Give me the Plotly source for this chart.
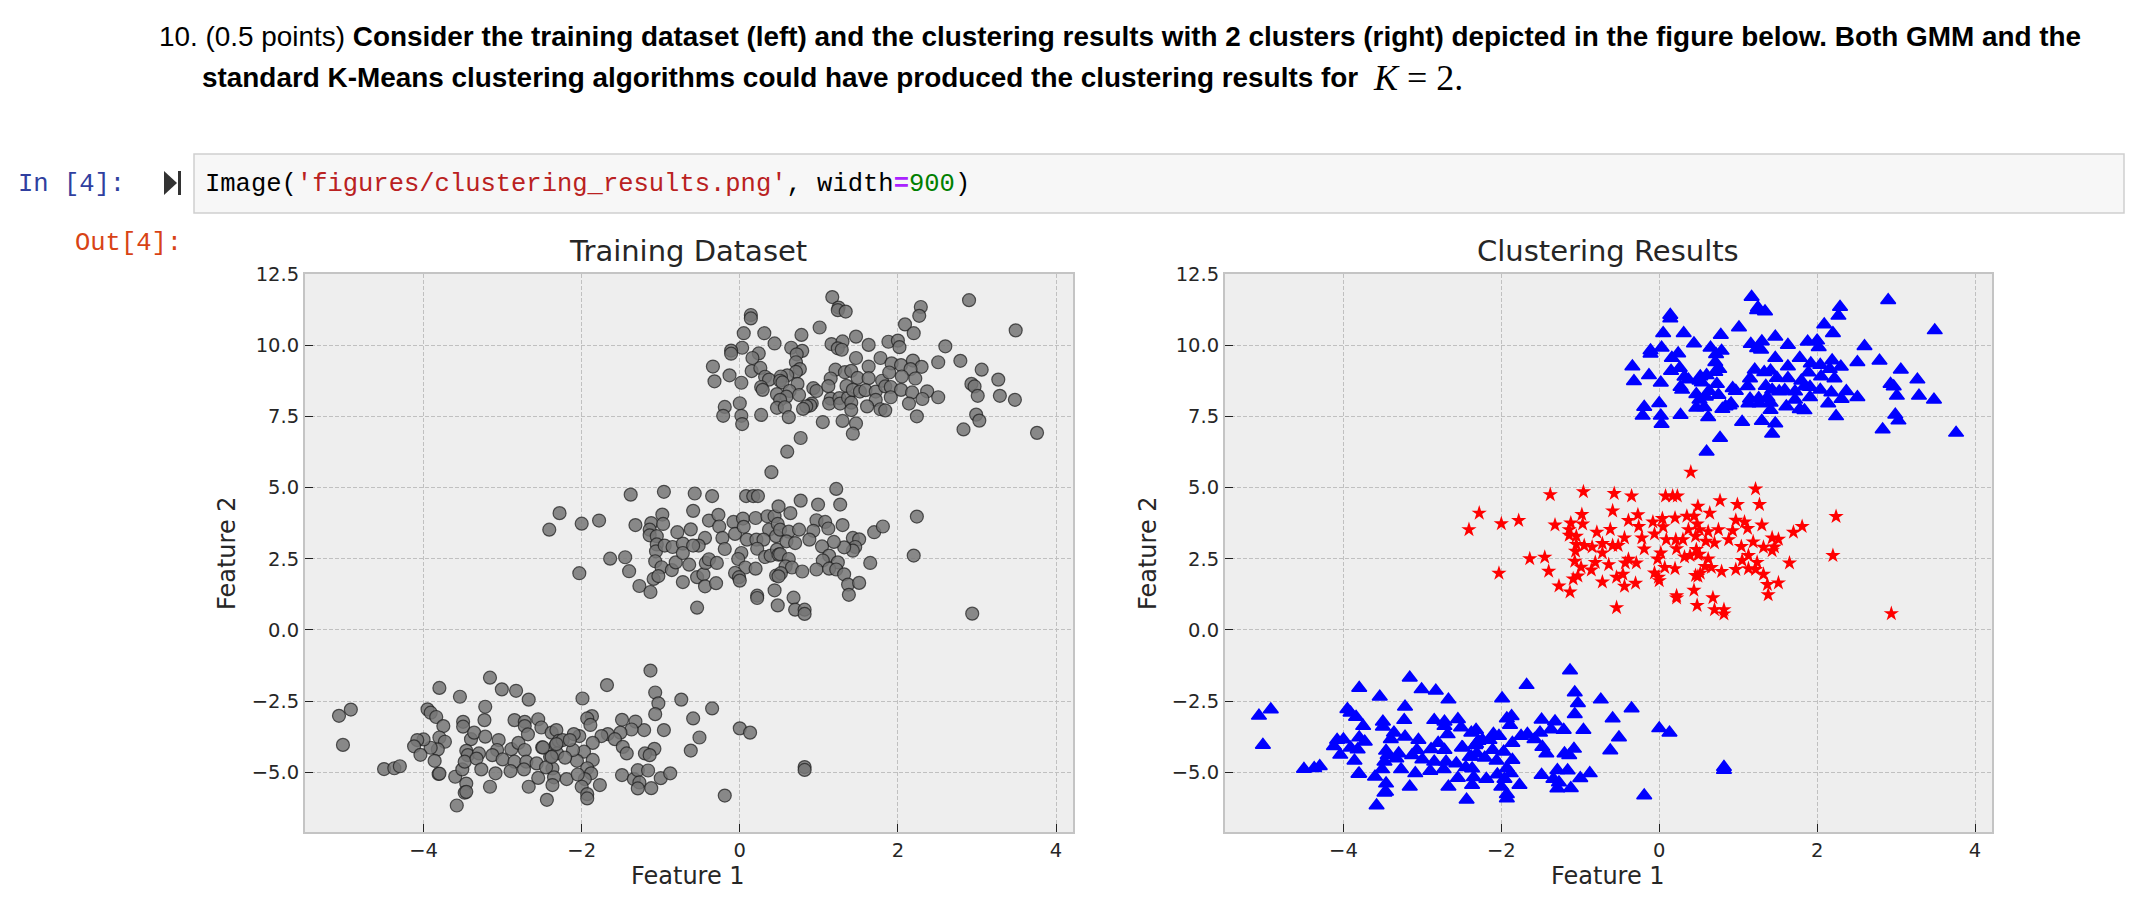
import plotly.graph_objects as go

# upper cluster
top_x = [1.17, 1.25, 1.24, 1.34, 2.90, 2.29, 2.27, 0.14, 0.14, 0.05, 0.31, 1.01, 0.78, 2.09, 2.20, 3.49, 0.44, 0.65,
         0.79, 0.72, 0.03, -0.11, -0.11, 0.24, 0.16, 1.16, 1.30, 1.24, 1.29, 1.47, 1.63, 1.88, 2.00, 2.02, 2.60, 1.47,
         1.78, 1.63, 1.92, 2.04, 2.19, 2.30, 2.16, 2.51, 2.79, 3.06, 3.27, -0.34, -0.13, -0.32, 0.02, 0.15, 0.26, 0.71,
         0.76, 0.71, 0.60, 0.32, 0.37, 0.52, 0.51, 0.54, 0.73, 0.27, 0.29, 0.63, 0.47, 0.59, 0.51, 0.75, 0.93, 0.97,
         0.47, 0.57, 0.62, -0.19, -0.21, 0.00, 0.02, 0.03, 0.27, 0.91, 0.89, 0.84, 0.80, 1.05, 0.77, 0.60, 1.15, 1.13,
         1.26, 1.27, 1.37, 1.41, 1.41, 1.30, 1.47, 1.43, 1.21, 1.33, 1.41, 1.15, 1.12, 1.35, 1.49, 1.63, 1.43, 1.52,
         1.59, 1.72, 1.80, 1.89, 1.84, 1.91, 2.05, 2.22, 1.91, 2.04, 2.18, 2.37, 2.51, 2.31, 2.14, 2.24, 1.72, 1.61,
         1.78, 1.84, 2.93, 2.97, 3.01, 3.29, 3.48, 2.99, 3.03, 2.83, 3.76]
top_y = [11.69, 11.32, 11.23, 11.18, 11.58, 11.34, 11.03, 11.06, 10.94, 10.42, 10.42, 10.62, 10.36, 10.73, 10.42, 10.52,
         10.06, 9.91, 9.80, 9.68, 9.91, 9.81, 9.70, 9.71, 9.55, 10.04, 10.13, 9.89, 9.84, 10.30, 10.01, 10.12, 10.16,
         9.93, 9.96, 9.55, 9.55, 9.25, 9.36, 9.30, 9.46, 9.24, 9.16, 9.40, 9.45, 9.14, 8.79, 9.25, 8.94, 8.73, 8.68,
         9.09, 9.20, 9.40, 9.16, 9.06, 8.94, 8.89, 8.79, 8.90, 8.75, 8.69, 8.64, 8.53, 8.43, 8.39, 8.28, 8.19, 8.08,
         8.25, 8.49, 8.39, 7.80, 7.82, 7.47, 7.83, 7.52, 7.96, 7.52, 7.23, 7.55, 7.95, 7.88, 7.85, 7.76, 7.30, 6.74,
         6.26, 8.12, 7.95, 8.14, 7.95, 8.16, 7.98, 7.72, 7.34, 7.25, 6.89, 9.14, 9.05, 9.10, 8.83, 8.56, 8.57, 8.85,
         8.84, 8.43, 8.37, 8.42, 8.37, 8.75, 9.04, 8.55, 8.53, 8.90, 8.83, 8.17, 8.43, 8.34, 8.38, 8.17, 8.11, 7.95,
         7.50, 8.08, 7.85, 7.75, 7.71, 8.64, 8.55, 8.22, 8.22, 8.08, 7.56, 7.35, 7.04, 6.92]

# middle cluster
mid_x = [-2.28, -2.41, -2.00, -1.78, -2.03, -1.64, -1.45, -1.40, -1.27, -1.13, -1.38, -0.96, -0.57, -0.35, -1.32, -1.12,
         -0.98, -0.97, -1.14, -1.14, -1.05, -1.05, -1.06, -1.07, -0.99, -1.09, -1.03, -0.86, -0.81, -0.95, -0.85, -0.72,
         -0.72, -0.79, -0.62, -0.59, -0.44, -0.52, -0.59, -0.64, -0.72, -0.54, -0.46, -0.44, -0.30, -0.54, -0.43, -0.39,
         -0.29, -0.39, -0.27, -0.26, -0.22, -0.19, -0.08, -0.06, 0.04, 0.05, 0.09, 0.02, -0.02, 0.07, 0.20, -0.06, -0.01,
         0.00, 0.22, 0.22, 0.20, 0.08, 0.17, 0.23, 0.35, 0.44, 0.49, 0.37, 0.48, 0.46, 0.21, 0.30, 0.22, 0.32, 0.39,
         0.47, 0.49, 0.46, 0.44, 0.48, 0.40, 0.77, 0.99, 1.22, 1.27, 0.64, 0.51, 0.62, 0.75, 0.97, 1.08, 1.12, 0.93,
         0.88, 1.30, 1.43, 1.51, 1.46, 1.43, 1.32, 1.19, 1.04, 1.13, 1.24, 1.05, 0.97, 1.13, 1.22, 1.32, 1.37, 1.51,
         1.38, 1.65, 1.70, 1.81, 2.24, 2.20, 2.94, 0.59, 0.70, 0.51, 0.62, 0.58, 0.66, 0.79, 0.52, 0.49, 0.68, 0.70,
         0.82, 0.82]
mid_y = [4.10, 3.52, 3.73, 3.84, 1.99, 2.50, 2.55, 2.06, 1.54, 1.33, 4.75, 4.85, 4.79, 4.70, 3.68, 3.75, 4.05, 3.72,
         3.52, 3.32, 3.29, 3.00, 2.76, 2.41, 2.20, 1.79, 1.89, 2.10, 2.37, 2.96, 2.91, 3.03, 2.70, 3.43, 3.53, 4.18,
         3.23, 2.96, 2.96, 2.29, 1.68, 1.85, 1.95, 1.53, 1.64, 0.78, 2.35, 2.48, 2.35, 3.84, 4.04, 3.63, 3.23, 2.84,
         3.79, 3.37, 3.91, 3.62, 3.17, 2.70, 2.49, 2.19, 2.15, 2.00, 1.85, 1.73, 1.20, 1.12, 3.93, 4.70, 4.70, 4.70,
         3.99, 3.99, 4.34, 3.52, 3.72, 3.29, 3.17, 3.17, 2.85, 2.56, 2.61, 2.82, 2.64, 1.91, 1.39, 0.86, 5.54, 4.54,
         4.40, 4.95, 4.40, 4.10, 3.52, 3.45, 3.52, 3.85, 3.79, 3.56, 3.48, 3.17, 3.68, 3.23, 3.18, 2.91, 2.78, 2.90,
         3.09, 2.93, 2.61, 2.37, 2.44, 2.12, 2.15, 2.12, 1.95, 1.59, 1.65, 1.23, 2.35, 3.43, 3.63, 3.98, 2.61, 0.57,
         3.11, 3.05, 2.66, 2.49, 2.23, 2.19, 2.05, 1.99, 1.88, 1.13, 0.71, 0.71, 0.56]

# lower cluster
low_x = [-4.92, -5.07, -5.02, -4.50, -4.37, -4.30, -3.80, -3.54, -3.16, -3.01, -2.83, -2.67, -3.22, -3.23, -3.95, -3.91,
         -3.84, -3.75, -3.80, -3.73, -3.82, -3.91, -4.00, -4.08, -4.12, -4.04, -3.86, -3.81, -3.80, -3.60, -3.51, -3.46,
         -3.48, -3.46, -3.58, -3.50, -3.50, -3.40, -3.36, -3.46, -3.44, -3.48, -3.30, -3.33, -3.27, -3.22, -3.09, -3.16,
         -3.05, -3.07, -3.13, -3.00, -2.89, -2.80, -2.72, -2.85, -2.72, -2.72, -2.68, -2.55, -2.51, -2.38, -2.32, -2.50,
         -2.40, -2.85, -2.90, -2.70, -2.73, -2.57, -2.55, -2.67, -2.37, -2.45, -2.35, -2.37, -2.44, -2.33, -2.29, -2.31,
         -1.68, -1.99, -1.13, -1.07, -1.03, -1.07, -0.74, -0.35, -0.59, -0.51, -0.62, -0.96, -1.21, -1.32, -1.49, -1.37,
         -1.51, -1.67, -1.75, -1.58, -1.86, -1.48, -1.43, -1.08, -1.20, -1.14, -1.87, -1.93, -1.89, -2.03, -2.10, -1.97,
         -1.86, -2.06, -1.93, -1.88, -1.96, -2.00, -1.77, -1.93, -1.93, -1.49, -1.34, -1.29, -1.16, -1.27, -1.29, -1.12,
         -1.00, -0.88, -0.19, 0.00, 0.13, -2.24, -2.11, -2.21, -2.19, -2.05, -2.15, -2.32, -2.38, -2.49, 0.82, 0.82]
low_y = [-2.80, -3.02, -4.04, -4.89, -4.86, -4.79, -2.04, -2.35, -1.68, -2.09, -2.14, -2.45, -2.70, -3.17, -2.79, -2.91,
         -3.06, -3.38, -3.78, -3.93, -4.20, -4.14, -3.85, -3.87, -4.09, -4.39, -4.60, -5.06, -5.05, -5.16, -4.90, -5.40,
         -5.72, -5.69, -6.17, -3.23, -3.40, -3.84, -3.61, -4.25, -4.40, -4.63, -4.34, -4.52, -4.90, -3.75, -5.04, -5.51,
         -3.87, -4.22, -4.40, -4.55, -4.19, -3.97, -4.22, -3.17, -3.23, -3.38, -3.67, -3.14, -3.43, -3.61, -3.52, -4.13,
         -4.46, -4.63, -4.96, -4.63, -4.90, -4.69, -5.20, -5.51, -4.87, -4.83, -5.18, -5.45, -5.97, -4.05, -3.90, -4.34,
         -1.94, -2.41, -1.43, -2.20, -2.58, -2.96, -2.45, -2.76, -3.11, -3.78, -4.24, -3.52, -3.52, -3.22, -3.16, -3.50,
         -3.61, -3.66, -3.73, -3.84, -3.97, -4.11, -4.34, -4.18, -4.34, -4.40, -3.03, -3.11, -3.34, -3.73, -3.66, -4.28,
         -4.57, -4.60, -4.86, -5.04, -5.24, -5.51, -5.45, -5.77, -5.92, -5.10, -5.24, -4.93, -4.94, -5.36, -5.57, -5.56,
         -5.21, -5.04, -5.82, -3.46, -3.61, -3.87, -4.22, -4.49, -5.24, -5.08, -3.87, -4.01, -4.46, -4.13, -4.82, -4.92]

panel_titles = ["Training Dataset", "Clustering Results"]
x_label = "Feature 1"
y_label = "Feature 2"
x_ticks = [-4, -2, 0, 2, 4]
y_ticks = [-5.0, -2.5, 0.0, 2.5, 5.0, 7.5, 10.0, 12.5]

W = 2130
H = 910


def px(x):
    return x / W


def py(y):
    return 1 - y / H


fig = go.Figure()

# left panel, everything in grey circles
fig.add_trace(
    go.Scatter(
        x=top_x + mid_x + low_x,
        y=top_y + mid_y + low_y,
        mode="markers",
        marker=dict(
            symbol="circle",
            size=13,
            color="rgba(118,118,118,0.85)",
            line=dict(color="rgba(25,25,25,0.7)", width=1.2),
        ),
        xaxis="x",
        yaxis="y",
    )
)

# right panel, the two clusters
fig.add_trace(
    go.Scatter(
        x=top_x + low_x,
        y=top_y + low_y,
        mode="markers",
        marker=dict(symbol="triangle-up", size=13, color="#0000ff", line=dict(color="#0000ff", width=1.5)),
        xaxis="x2",
        yaxis="y2",
    )
)
fig.add_trace(
    go.Scatter(
        x=mid_x,
        y=mid_y,
        mode="markers",
        marker=dict(symbol="star", size=11.5, color="#ff0000"),
        xaxis="x2",
        yaxis="y2",
    )
)

x_style = dict(
    range=[-5.5, 4.215],
    tickmode="array",
    tickvals=x_ticks,
    ticks="inside",
    ticklen=8,
    tickcolor="#222222",
    tickwidth=1.2,
    automargin=False,
    showgrid=True,
    gridcolor="#c0c0c0",
    griddash="4px,2px",
    gridwidth=1,
    zeroline=False,
    showline=True,
    linecolor="#c4c4c4",
    linewidth=2,
    mirror=True,
    tickfont=dict(family="DejaVu Sans", size=19.5, color="#262626"),
)
y_style = dict(x_style)
y_style.update(range=[-7.1, 12.5], tickvals=y_ticks, tickformat=".1f")

fig.update_layout(
    width=W,
    height=H,
    margin=dict(l=0, r=0, t=0, b=0),
    paper_bgcolor="white",
    plot_bgcolor="#eeeeee",
    showlegend=False,
    xaxis=dict(x_style, domain=[px(305), px(1073)], anchor="y"),
    yaxis=dict(y_style, domain=[py(832), py(274)], anchor="x"),
    xaxis2=dict(x_style, domain=[px(1225), px(1992)], anchor="y2"),
    yaxis2=dict(y_style, domain=[py(832), py(274)], anchor="x2"),
)


def add_text(text, x, y, size, family, color="#000000", xanchor="left", textangle=0):
    fig.add_annotation(
        text=text,
        x=px(x),
        y=py(y),
        xref="paper",
        yref="paper",
        xanchor=xanchor,
        yanchor="middle",
        showarrow=False,
        textangle=textangle,
        font=dict(family=family, size=size, color=color),
    )


# question text above the figure
add_text(
    "10. (0.5 points) <b>Consider the training dataset (left) and the clustering results with 2 clusters "
    "(right) depicted in the figure below. Both GMM and the</b>",
    157, 37, 27.9, "Liberation Sans",
)
add_text(
    "<b>standard K-Means clustering algorithms could have produced the clustering results for</b>",
    200, 77, 27.9, "Liberation Sans",
)
add_text("<i>K</i> = 2.", 1371, 78, 36, "Liberation Serif")

# notebook cell
fig.add_shape(
    type="rect", xref="paper", yref="paper",
    x0=px(194), x1=px(2124), y0=py(213), y1=py(154),
    line=dict(color="#cfcfcf", width=1.5), fillcolor="#f7f7f7",
)
fig.add_shape(
    type="path", xref="paper", yref="paper",
    path=f"M {px(164)} {py(171)} L {px(177)} {py(183)} L {px(164)} {py(195)} Z",
    line=dict(width=0), fillcolor="#333333",
)
fig.add_shape(
    type="rect", xref="paper", yref="paper",
    x0=px(178), x1=px(181), y0=py(195), y1=py(171),
    line=dict(width=0), fillcolor="#333333",
)
add_text("In [4]:", 16, 185, 25.5, "Liberation Mono", "#303f9f")
add_text("Out[4]:", 73, 244, 25.5, "Liberation Mono", "#d84315")
code = (
    "Image(<span style='color:#ba2121'>'figures/clustering_results.png'</span>, width"
    "<span style='color:#aa22ff'><b>=</b></span><span style='color:#008000'>900</span>)"
)
add_text(code, 203, 185, 25.5, "Liberation Mono")

# panel titles and axis labels
label_font = "DejaVu Sans"
add_text(panel_titles[0], 688, 251, 29, label_font, "#262626", "center")
add_text(panel_titles[1], 1608, 251, 29, label_font, "#262626", "center")
add_text(x_label, 688, 876, 24, label_font, "#262626", "center")
add_text(x_label, 1608, 876, 24, label_font, "#262626", "center")
add_text(y_label, 227, 553, 24, label_font, "#262626", "center", -90)
add_text(y_label, 1148, 553, 24, label_font, "#262626", "center", -90)

fig.write_html(
    "out.html",
    config={"displayModeBar": False},
    post_script="document.body.style.margin = '0';",
)
